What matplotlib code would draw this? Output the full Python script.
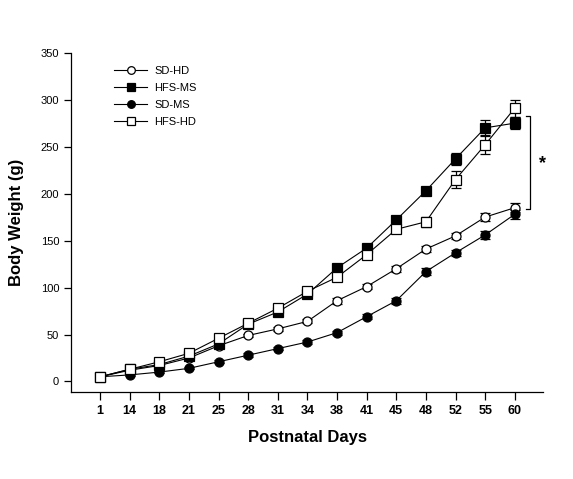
import matplotlib
matplotlib.use("Agg")
import matplotlib.pyplot as plt
from matplotlib.lines import Line2D
import numpy as np

plt.rcParams["font.family"] = ["Liberation Sans", "DejaVu Sans"]

# postnatal days (plotted as equally spaced categories)
days = ["1", "14", "18", "21", "25", "28", "31", "34", "38", "41", "45", "48", "52", "55", "60"]

sd_hd = [5, 12, 17, 25, 38, 49, 56, 64, 86, 101, 120, 141, 155, 175, 185]
sd_hd_err = [1, 1, 1, 1.5, 2, 2, 2, 2, 3, 3, 3, 3, 3, 4, 4.6]

hfs_ms = [5, 13, 18, 27, 40, 61, 74, 93, 121, 142, 172, 203, 237, 270, 275]
hfs_ms_err = [1, 1, 1.5, 2, 2, 2, 3, 3, 3, 3, 3, 3, 6.5, 8.5, 6.5]

sd_ms = [5, 7, 10, 14, 21, 28, 35, 42, 52, 69, 86, 117, 137, 156, 178]
sd_ms_err = [1, 1, 1, 1, 1.5, 2, 2, 2, 2, 3, 3, 4, 3, 4, 5]

hfs_hd = [5, 13, 21, 30, 46, 62, 78, 96, 111, 135, 162, 170, 215, 252, 291]
hfs_hd_err = [1, 1, 1.5, 2, 2, 2, 3, 3, 3, 3, 3, 5.5, 9.5, 10, 9]

series = [
    ("SD-HD", sd_hd, sd_hd_err, "o", "white"),
    ("HFS-MS", hfs_ms, hfs_ms_err, "s", "black"),
    ("SD-MS", sd_ms, sd_ms_err, "o", "black"),
    ("HFS-HD", hfs_hd, hfs_hd_err, "s", "white"),
]

fig = plt.figure(figsize=(5.73, 4.79), dpi=100)
ax = fig.add_axes([0.124, 0.182, 0.824, 0.708])

x = np.arange(len(days))
handles = []
for label, vals, err, marker, face in series:
    ax.errorbar(x, vals, yerr=err, color="black", lw=0.8, marker=marker,
                markersize=6.5, markerfacecolor=face, markeredgecolor="black",
                markeredgewidth=0.9, capsize=3.5, elinewidth=0.9, capthick=0.9)
    handles.append(Line2D([], [], color="black", lw=0.8, marker=marker,
                          markersize=5.5, markerfacecolor=face,
                          markeredgecolor="black", markeredgewidth=0.9,
                          label=label))

# significance bracket
ax.plot([14.37, 14.51, 14.51, 14.37], [283, 283, 183.5, 183.5], color="black",
        lw=0.9, clip_on=False)
ax.text(14.92, 232, "*", fontsize=13, fontweight="bold", ha="center", va="center")

ax.set_xlim(-0.98, 14.96)
ax.set_ylim(-11, 350)
ax.set_xticks(x)
ax.set_xticklabels(days, fontsize=9, fontweight="bold")
ax.set_yticks(np.arange(0, 351, 50))
ax.tick_params(axis="y", labelsize=8, length=5, width=0.9)
ax.tick_params(axis="x", length=6, width=0.9)
for side in ["top", "right"]:
    ax.spines[side].set_visible(False)
for side in ["left", "bottom"]:
    ax.spines[side].set_linewidth(0.9)

ax.set_xlabel("Postnatal Days", fontsize=12, fontweight="bold", labelpad=9)
ax.set_ylabel("Body Weight (g)", fontsize=12, fontweight="bold", labelpad=12)

ax.legend(handles=handles, loc="upper left", bbox_to_anchor=(0.07, 0.99),
          frameon=False, fontsize=8, handlelength=3.0, handletextpad=0.6,
          labelspacing=0.62)

fig.savefig("out.png", dpi=100)
